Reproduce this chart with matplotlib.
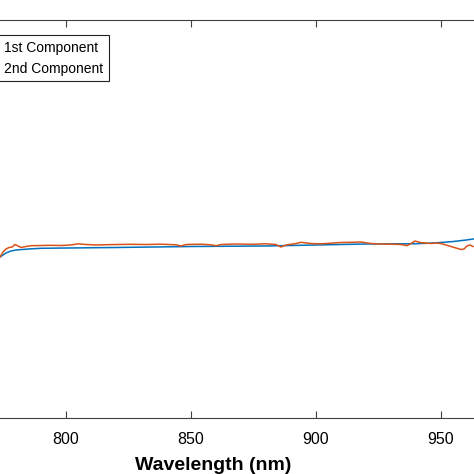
import matplotlib
matplotlib.use("Agg")
import matplotlib.pyplot as plt
import numpy as np

plt.rcParams['font.family'] = ['Liberation Sans', 'DejaVu Sans']

# 1st component (blue)
wl1 = [773.6, 776, 778, 780, 785, 790, 800, 820, 850, 880, 900, 920, 940, 945, 950, 955, 960, 963]
comp1 = [0.4045, 0.4146, 0.4196, 0.4221, 0.4246, 0.4264, 0.4271, 0.4284, 0.4309, 0.4322,
         0.4347, 0.4372, 0.4379, 0.4392, 0.4410, 0.4435, 0.4472, 0.4497]

# 2nd component (orange)
wl2 = [773.6, 774.8, 776, 777.2, 778.4, 779.6, 780.8, 782, 784, 786, 790, 794, 798, 802,
       804.8, 808, 812, 816, 820, 826, 832, 838, 844, 846, 848, 854, 858, 860, 862, 868,
       874, 880, 884, 886, 888, 892, 894, 898, 902, 906, 910, 914, 918, 922, 926, 930,
       934, 936.4, 938, 939.6, 942, 944, 946, 948, 950, 952, 954, 956, 958, 959.2, 960.4,
       961.6, 962.8]
comp2 = [0.4045, 0.4170, 0.4246, 0.4284, 0.4296, 0.4359, 0.4322, 0.4284, 0.4309, 0.4329,
         0.4334, 0.4339, 0.4334, 0.4347, 0.4377, 0.4359, 0.4347, 0.4354, 0.4359, 0.4364,
         0.4359, 0.4367, 0.4352, 0.4322, 0.4359, 0.4367, 0.4352, 0.4327, 0.4359, 0.4372,
         0.4364, 0.4377, 0.4359, 0.4296, 0.4347, 0.4384, 0.4414, 0.4384, 0.4377, 0.4392,
         0.4410, 0.4414, 0.4422, 0.4384, 0.4372, 0.4367, 0.4359, 0.4329, 0.4384, 0.4447,
         0.4405, 0.4397, 0.4384, 0.4397, 0.4384, 0.4347, 0.4309, 0.4271, 0.4234, 0.4246,
         0.4322, 0.4347, 0.4309]

labels = ["1st Component", "2nd Component"]
xticks = [800, 850, 900, 950]

fig = plt.figure(figsize=(4.74, 4.74), dpi=100)
# axes is wider than the picture (the reference is cropped on both sides)
ax = fig.add_axes([-59 / 474, 56 / 474, 545 / 474, 398 / 474])
ax.plot(wl1, comp1, color="#0072BD", lw=1.1, label=labels[0])
ax.plot(wl2, comp2, color="#D95319", lw=1.1, label=labels[1])

ax.set_xlim(750, 968)
ax.set_ylim(0, 1)
ax.set_xticks(xticks)
ax.set_yticks([])
ax.tick_params(axis="x", direction="in", top=True, length=5, width=0.8,
               color="#404040", labelsize=11.5, pad=10)
for s in ax.spines.values():
    s.set_color("#404040")
    s.set_linewidth(0.8)
ax.set_xlabel("Wavelength (nm)", fontsize=14, fontweight="bold", labelpad=7)

leg = ax.legend(loc="upper right", bbox_to_anchor=(109 / 474, 1 - 35 / 474),
                bbox_transform=fig.transFigure, borderaxespad=0, fontsize=10,
                fancybox=False, edgecolor="#222222", framealpha=1)
leg.get_frame().set_linewidth(0.8)

fig.savefig("out.png", dpi=100)
